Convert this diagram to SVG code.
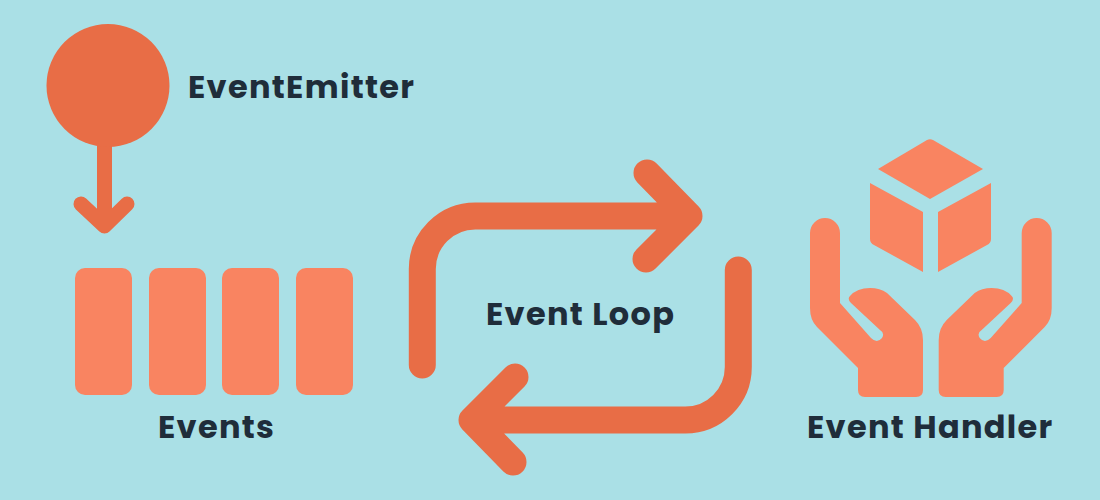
<svg xmlns="http://www.w3.org/2000/svg" width="1100" height="500" viewBox="0 0 1100 500">
<style>
.t{font-family:Poppins,"Inter","Open Sans",sans-serif;font-weight:700;font-size:32px;fill:#1f2d3a;letter-spacing:1.3px}
.l{fill:none;stroke:#e86d46;stroke-width:27px;stroke-linecap:round;stroke-linejoin:round}
.b{fill:#f98461}
</style>
<defs>
<path id="hand" d="M810 233A15 15 0 0 1 840 233V303L871 338Q877 344 882 338Q885 333 880 330L851 303Q847 299 850 296Q857 288 870 288Q880 288 887 293L915 320Q923 328 923 340V390Q923 397 916 397H865Q858 397 858 390V368L817 327Q810 320 810 308Z"/>
</defs>
<rect width="1100" height="500" fill="#aae0e6"/>
<g id="connectors">
<path class="l" d="M104.500 140V226M81 204L104.500 226L127 204" style="stroke-width:15px"/>
<path class="l" d="M422.300 365V269A53 53 0 0 1 475.300 216H689M647 173L689 216L646 259"/>
<path class="l" d="M738.300 270V367A53 53 0 0 1 685.300 420H472M515 377L472 420L513 462"/>
</g>
<g id="emitter"><circle cx="108" cy="85.500" r="61.500" fill="#e86d46"/><text class="t" x="188" y="98">EventEmitter</text></g>
<g id="events">
<rect class="b" x="75" y="268" width="57" height="127" rx="10"/>
<rect class="b" x="149" y="268" width="57" height="127" rx="10"/>
<rect class="b" x="222" y="268" width="57" height="127" rx="10"/>
<rect class="b" x="296" y="268" width="57" height="127" rx="10"/>
<text class="t" x="158" y="438">Events</text></g>
<g id="loop"><text class="t" x="486" y="325">Event Loop</text></g>
<g id="handler">
<path class="b" d="M927 140Q930 138.500 933 140L983 169L930 199L878 169Z"/>
<path class="b" d="M870 183L923 212V272L874 245Q870 243 870 239Z"/>
<path class="b" d="M991 183L938 212V272L987 245Q991 243 991 239Z"/>
<use href="#hand" class="b"/>
<use href="#hand" class="b" transform="translate(1861.700 0) scale(-1 1)"/>
<text class="t" x="807" y="438">Event Handler</text></g>
</svg>
